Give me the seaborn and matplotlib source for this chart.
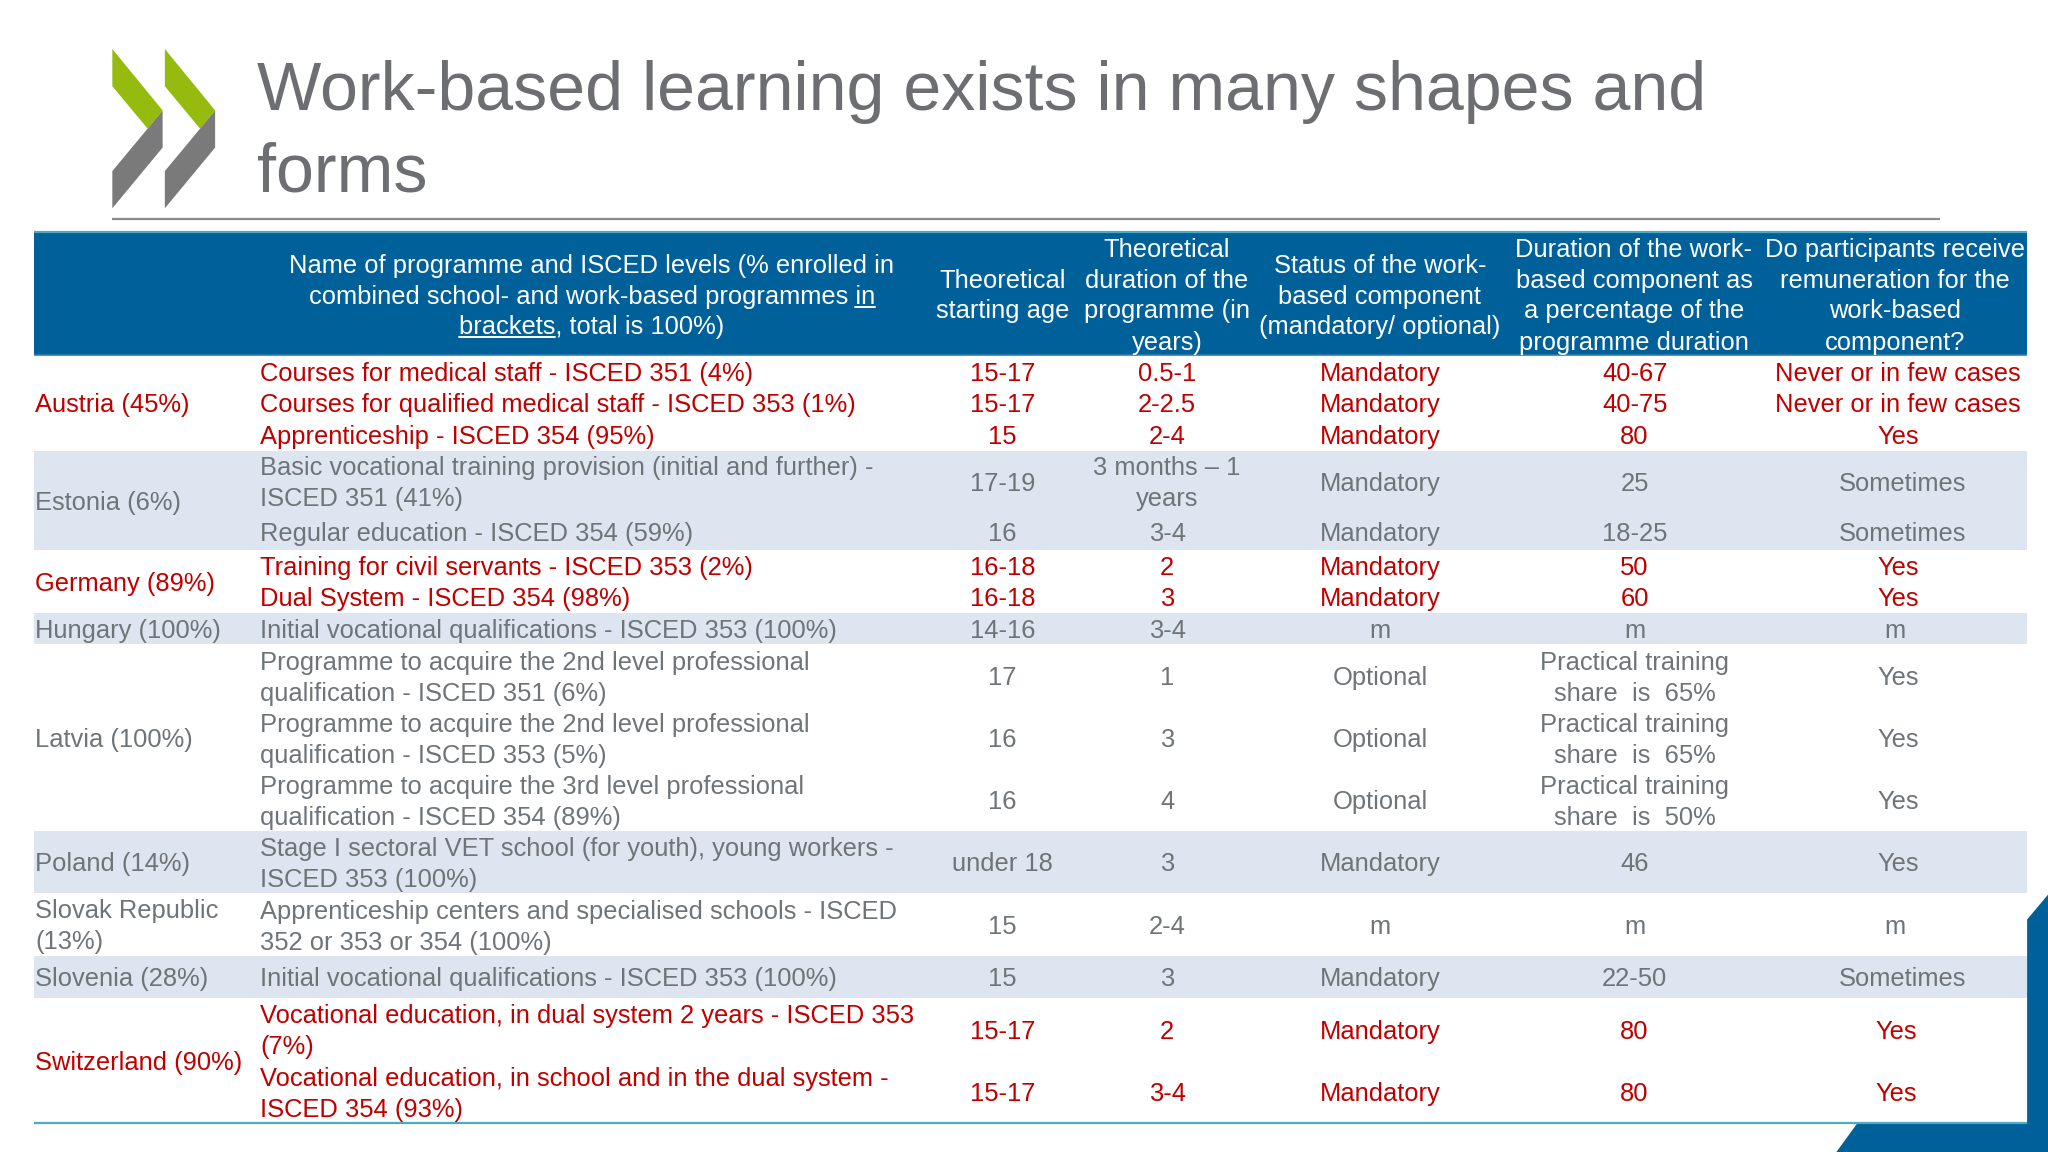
import matplotlib
matplotlib.use("Agg")
import matplotlib.pyplot as plt
from matplotlib.patches import Polygon, Rectangle
import seaborn as sns

# ---- content -------------------------------------------------------------
TITLE_LINES = ["Work-based learning exists in many shapes and", "forms"]
HEADERS = [
    ["Name of programme and ISCED levels (% enrolled in",
     "combined school- and work-based programmes in",
     "brackets, total is 100%)"],
    ["Theoretical", "starting age"],
    ["Theoretical", "duration of the", "programme (in", "years)"],
    ["Status of the work-", "based component", "(mandatory/ optional)"],
    ["Duration of the work-", "based component as", "a percentage of the", "programme duration"],
    ["Do participants receive", "remuneration for the", "work-based", "component?"],
]
COUNTRIES = [["Austria (45%)"], ["Estonia (6%)"], ["Germany (89%)"], ["Hungary (100%)"],
             ["Latvia (100%)"], ["Poland (14%)"], ["Slovak Republic", "(13%)"],
             ["Slovenia (28%)"], ["Switzerland (90%)"]]
PROGRAMMES = [
    ["Courses for medical staff - ISCED 351 (4%)"],
    ["Courses for qualified medical staff - ISCED 353 (1%)"],
    ["Apprenticeship - ISCED 354 (95%)"],
    ["Basic vocational training provision (initial and further) -", "ISCED 351 (41%)"],
    ["Regular education - ISCED 354 (59%)"],
    ["Training for civil servants - ISCED 353 (2%)"],
    ["Dual System - ISCED 354 (98%)"],
    ["Initial vocational qualifications - ISCED 353 (100%)"],
    ["Programme to acquire the 2nd level professional", "qualification - ISCED 351 (6%)"],
    ["Programme to acquire the 2nd level professional", "qualification - ISCED 353 (5%)"],
    ["Programme to acquire the 3rd level professional", "qualification - ISCED 354 (89%)"],
    ["Stage I sectoral VET school (for youth), young workers -", "ISCED 353 (100%)"],
    ["Apprenticeship centers and specialised schools - ISCED", "352 or 353 or 354 (100%)"],
    ["Initial vocational qualifications - ISCED 353 (100%)"],
    ["Vocational education, in dual system 2 years - ISCED 353", "(7%)"],
    ["Vocational education, in school and in the dual system -", "ISCED 354 (93%)"],
]
AGES = ["15-17", "15-17", "15", "17-19", "16", "16-18", "16-18", "14-16", "17", "16", "16",
        "under 18", "15", "15", "15-17", "15-17"]
DURATIONS = [["0.5-1"], ["2-2.5"], ["2-4"], ["3 months – 1", "years"], ["3-4"], ["2"], ["3"], ["3-4"],
             ["1"], ["3"], ["4"], ["3"], ["2-4"], ["3"], ["2"], ["3-4"]]
STATUSES = ["Mandatory", "Mandatory", "Mandatory", "Mandatory", "Mandatory", "Mandatory", "Mandatory", "m",
            "Optional", "Optional", "Optional", "Mandatory", "m", "Mandatory", "Mandatory", "Mandatory"]
SHARES = [["40-67"], ["40-75"], ["80"], ["25"], ["18-25"], ["50"], ["60"], ["m"],
          ["Practical training", "share  is  65%"], ["Practical training", "share  is  65%"],
          ["Practical training", "share  is  50%"], ["46"], ["m"], ["22-50"], ["80"], ["80"]]
REMUNERATION = ["Never or in few cases", "Never or in few cases", "Yes", "Sometimes", "Sometimes", "Yes", "Yes", "m",
                "Yes", "Yes", "Yes", "Yes", "m", "Sometimes", "Yes", "Yes"]

# ---- layout (in units of a 1568 x 882 slide) ------------------------------
RED, GREY, BLUE, BAND, TEAL = "#c00000", "#6f7479", "#00609a", "#dde5f0", "#4bacc6"
GROUP_ROWS = [3, 2, 2, 1, 3, 1, 1, 1, 2]
GROUP_RED = [True, False, True, False, False, False, False, False, True]
GROUP_BAND = [False, True, False, True, False, True, False, True, False]
GROUP_EDGES = [272, 345, 421, 469, 493, 636, 684, 732, 764, 860]
GROUP_CENTERS = [309, 383.5, 445.5, 481.5, 565.5, 660.5, 708, 748.5, 812.5]
ROW_CENTERS = [285, 309, 333, 369, 407.5, 433.5, 457.5, 481.5, 518, 565.5, 613, 660.5, 708.5, 748.5, 788.5, 836.5]
REM_X = [1453, 1453, 1453.5, 1456.5, 1456.5, 1453.5, 1453.5, 1451, 1453.5, 1453.5, 1453.5, 1453.5, 1451, 1456.5, 1451.5, 1451.5]
COL_X = [767.5, 893.5, 1056.5, 1251.5]
HEAD_X = [453, 767.5, 893.5, 1056.5, 1251, 1451]
HEAD_Y = [[202, 226, 249], [214, 237], [190, 214, 237, 261], [202, 226, 249],
          [190, 214, 237, 261], [190, 214, 237, 261]]
LINE_H = 23.6
BASE = 6.7
FS = 18.36

sns.set_theme(style="white", rc={"axes.facecolor": "white", "figure.facecolor": "white"})
plt.rcParams["font.family"] = ["Liberation Sans", "DejaVu Sans"]

fig = plt.figure(figsize=(20.48, 11.52), dpi=100)
ax = fig.add_axes([0, 0, 1, 1])
ax.set_xlim(0, 1568)
ax.set_ylim(882, 0)
ax.axis("off")
sns.despine(ax=ax, left=True, bottom=True)


def put(x, y, s, color, ha="center", size=FS):
    return ax.text(x, y + BASE, s, color=color, ha=ha, va="baseline", fontsize=size)


def stack(x, yc, lines, color, ha="center"):
    top = yc - (len(lines) - 1) * LINE_H / 2
    for i, s in enumerate(lines):
        put(x, top + i * LINE_H, s, color, ha)


# logo
for dx in (0, 40.2):
    ax.add_patch(Polygon([(86 + dx, 37.5), (124.5 + dx, 84.5), (113 + dx, 98.5), (86 + dx, 66)],
                         closed=True, fc="#95bb0f", ec="none"))
    ax.add_patch(Polygon([(124.5 + dx, 84.5), (124.5 + dx, 113), (86 + dx, 159.5), (86 + dx, 131), (113 + dx, 98.5)],
                         closed=True, fc="#7a7a7a", ec="none"))

# title
ax.text(197, 84, TITLE_LINES[0], color="#6d6e71", fontsize=49.1, ha="left", va="baseline")
ax.text(197, 147, TITLE_LINES[1], color="#6d6e71", fontsize=49.1, ha="left", va="baseline")
ax.plot([86, 1485], [168, 168], color="#8a8a8a", lw=1.6, solid_capstyle="butt")

# corner decoration
ax.add_patch(Polygon([(1552, 704), (1568, 685), (1568, 882), (1406, 882), (1422, 860), (1552, 860)],
                     closed=True, fc=BLUE, ec="none"))

# header
ax.add_patch(Rectangle((26, 178), 1526, 94, fc=BLUE, ec="none"))
ax.plot([26, 1552], [178, 178], color=TEAL, lw=1.6, solid_capstyle="butt")
ax.plot([26, 1552], [272, 272], color="#2f7fb0", lw=1.2, solid_capstyle="butt")
for x, ys, lines in zip(HEAD_X, HEAD_Y, HEADERS):
    for y, s in zip(ys, lines):
        put(x, y, s, "white")

# body: bands
for i, banded in enumerate(GROUP_BAND):
    if banded:
        ax.add_patch(Rectangle((26, GROUP_EDGES[i]), 1526, GROUP_EDGES[i + 1] - GROUP_EDGES[i],
                               fc=BAND, ec="none", zorder=0))
ax.plot([26, 1552], [860, 860], color=TEAL, lw=1.6, solid_capstyle="butt")

# body: text
row = 0
for g, n in enumerate(GROUP_ROWS):
    col = RED if GROUP_RED[g] else GREY
    stack(27, GROUP_CENTERS[g], COUNTRIES[g], col, "left")
    for r in range(row, row + n):
        yc = ROW_CENTERS[r]
        stack(199, yc, PROGRAMMES[r], col, "left")
        put(COL_X[0], yc, AGES[r], col)
        stack(COL_X[1], yc, DURATIONS[r], col)
        put(COL_X[2], yc, STATUSES[r], col)
        stack(COL_X[3], yc, SHARES[r], col)
        put(REM_X[r], yc, REMUNERATION[r], col)
    row += n

# underlined words in the first header ("in" / "brackets")
fig.canvas.draw()
rend = fig.canvas.get_renderer()
inv = ax.transData.inverted()


def width(s):
    t = ax.text(0, 0, s, fontsize=FS)
    bb = t.get_window_extent(rend)
    t.remove()
    return inv.transform((bb.x1, 0))[0] - inv.transform((bb.x0, 0))[0]


line2, line3 = HEADERS[0][1], HEADERS[0][2]
x0 = HEAD_X[0] - width(line2) / 2
ax.plot([x0 + width(line2) - width("in"), x0 + width(line2)], [226 + BASE + 2.4] * 2, color="white", lw=1.4)
x0 = HEAD_X[0] - width(line3) / 2
ax.plot([x0, x0 + width("brackets")], [249 + BASE + 2.4] * 2, color="white", lw=1.4)

fig.savefig("out.png", dpi=100)
